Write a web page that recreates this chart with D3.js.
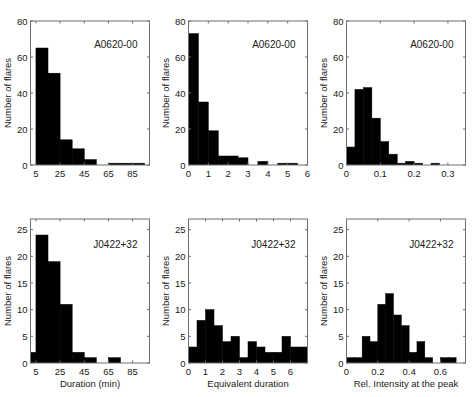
<!DOCTYPE html>
<html>
<head>
  <meta charset="utf-8">
  <title>Flare histograms</title>
  <style>
    body { margin: 0; background: #fff; }
    svg { font-family: "Liberation Sans", Arial, sans-serif; }
    .frame { fill: none; stroke: #6e6e6e; stroke-width: 1; }
    .tick { stroke: #6e6e6e; stroke-width: 1; }
    .bar { fill: #000; stroke: #000; stroke-width: 0.5; }
    text { fill: #1a1a1a; }
  </style>
</head>
<body>
  <svg width="474" height="397"></svg>
  <script src="https://cdnjs.cloudflare.com/ajax/libs/d3/7.8.5/d3.min.js"></script>
  <script>
    // histogram counts
    const durA = [0, 65, 51, 14, 9, 3, 0, 1, 1, 1];          // bins of 10 starting at -5
    const eqA = [73, 35, 19, 5, 5, 4, 0, 2, 0, 1, 1];         // bins of 0.5 starting at 0
    const intA = [10, 42, 43, 26, 13, 6, 1, 2, 1, 0, 1];      // bins of 0.025 starting at 0
    const durJ = [2, 24, 19, 11, 2, 1, 0, 1, 0, 0];
    const eqJ = [3, 8, 10, 7, 4, 5, 1, 4, 3, 2, 2, 5, 3, 3];
    const intJ = [1, 1, 5, 4, 11, 13, 9, 7, 2, 4, 1, 0, 1, 1];

    const yTicksTop = [0, 20, 40, 60, 80];
    const yTicksBottom = [0, 5, 10, 15, 20, 25];
    const durTicks = [5, 25, 45, 65, 85];
    const eqTicksA = [0, 1, 2, 3, 4, 5, 6];
    const eqTicksJ = [0, 1, 2, 3, 4, 5, 6];
    const intTicksA = [0, 0.1, 0.2, 0.3];
    const intTicksJ = [0, 0.2, 0.4, 0.6];

    const xLabels = ["Duration (min)", "Equivalent duration", "Rel. Intensity at the peak"];

    const panels = [
      {row: 0, col: 0, counts: durA, start: -5, step: 10, xd: [0.5, 99], yd: [0, 80], xt: durTicks, yt: yTicksTop, name: "A0620-00"},
      {row: 0, col: 1, counts: eqA, start: 0, step: 0.5, xd: [0, 6], yd: [0, 80], xt: eqTicksA, yt: yTicksTop, name: "A0620-00"},
      {row: 0, col: 2, counts: intA, start: 0, step: 0.025, xd: [0, 0.352], yd: [0, 80], xt: intTicksA, yt: yTicksTop, name: "A0620-00"},
      {row: 1, col: 0, counts: durJ, start: -5, step: 10, xd: [0.5, 99], yd: [0, 27], xt: durTicks, yt: yTicksBottom, name: "J0422+32"},
      {row: 1, col: 1, counts: eqJ, start: 0, step: 0.5, xd: [0, 7], yd: [0, 27], xt: eqTicksJ, yt: yTicksBottom, name: "J0422+32"},
      {row: 1, col: 2, counts: intJ, start: 0, step: 0.05, xd: [0, 0.76], yd: [0, 27], xt: intTicksJ, yt: yTicksBottom, name: "J0422+32"}
    ];

    const svg = d3.select("svg");
    const lefts = [30.5, 188.5, 346.5];
    const tops = [21, 219];
    const w = 119, h = 144;
    const tl = 2.5; // tick length

    panels.forEach((p, idx) => {
      const g = svg.append("g")
        .attr("transform", "translate(" + lefts[p.col] + "," + tops[p.row] + ")");
      const x = d3.scaleLinear().domain(p.xd).range([0, w]);
      const y = d3.scaleLinear().domain(p.yd).range([h, 0]);

      const clipId = "clip" + idx;
      g.append("clipPath").attr("id", clipId)
        .append("rect").attr("width", w).attr("height", h);

      g.append("g").attr("clip-path", "url(#" + clipId + ")")
        .selectAll("rect")
        .data(p.counts.filter(c => true).map((c, i) => ({c: c, x0: p.start + i * p.step, x1: p.start + (i + 1) * p.step}))
          .filter(d => d.c > 0))
        .enter().append("rect")
        .attr("class", "bar")
        .attr("x", d => x(d.x0))
        .attr("width", d => x(d.x1) - x(d.x0))
        .attr("y", d => y(d.c))
        .attr("height", d => y(0) - y(d.c));

      // tick marks inside the box, on all four sides
      p.xt.forEach(t => {
        g.append("line").attr("class", "tick").attr("x1", x(t)).attr("x2", x(t)).attr("y1", h).attr("y2", h - tl);
        g.append("line").attr("class", "tick").attr("x1", x(t)).attr("x2", x(t)).attr("y1", 0).attr("y2", tl);
        g.append("text").attr("x", x(t)).attr("y", h + 11.5)
          .attr("text-anchor", "middle").attr("font-size", 9.5).text(t);
      });
      p.yt.forEach(t => {
        g.append("line").attr("class", "tick").attr("x1", 0).attr("x2", tl).attr("y1", y(t)).attr("y2", y(t));
        g.append("line").attr("class", "tick").attr("x1", w).attr("x2", w - tl).attr("y1", y(t)).attr("y2", y(t));
        g.append("text").attr("x", -3).attr("y", y(t) + 3.5)
          .attr("text-anchor", "end").attr("font-size", 9.5).text(t);
      });

      g.append("rect").attr("class", "frame").attr("width", w).attr("height", h);

      g.append("text").attr("x", w - 12).attr("y", p.row === 0 ? 27 : 29)
        .attr("text-anchor", "end").attr("font-size", 10).text(p.name);

      g.append("text")
        .attr("transform", "translate(-20," + (h / 2) + ") rotate(-90)")
        .attr("text-anchor", "middle").attr("font-size", 9.5)
        .text("Number of flares");

      if (p.row === 1) {
        g.append("text").attr("x", w / 2).attr("y", h + 24)
          .attr("text-anchor", "middle").attr("font-size", 9.5)
          .text(xLabels[p.col]);
      }
    });
  </script>
</body>
</html>
